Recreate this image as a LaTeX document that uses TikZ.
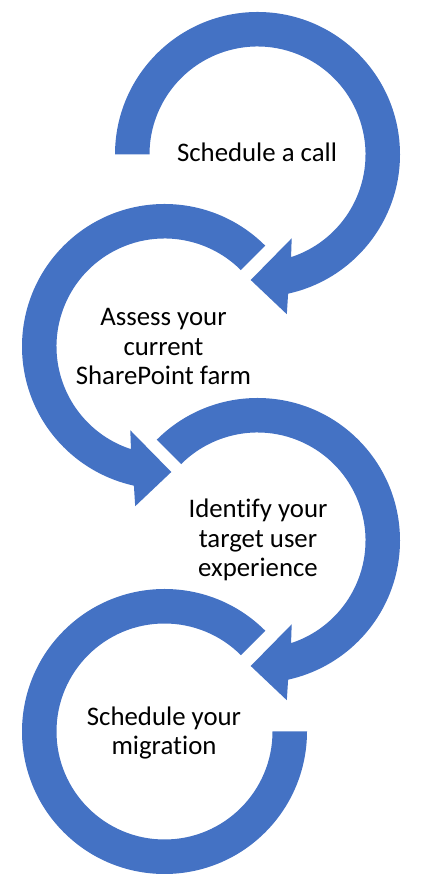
\documentclass[tikz,border=0pt]{standalone}
\usepackage{fontspec}
\setmainfont{Carlito}[Ligatures=NoCommon]
\definecolor{accentblue}{HTML}{4472C4}
\begin{document}
\begin{tikzpicture}[x=1pt,y=1pt,
  ringshape/.style={fill=accentblue, draw=none},
  steptext/.style={font=\fontsize{26.8}{29.5}\selectfont, align=center, anchor=base, inner sep=0pt, text=black}]
\useasboundingbox (0,0) rectangle (442,880);
\coordinate (c1) at (257.5,725.5);
\coordinate (c2) at (164.5,533.5);
\coordinate (c3) at (257.5,339.5);
\coordinate (c4) at (164.5,148.5);
% ring 1: clockwise, starts at left
\begin{scope}[shift={(c1)}]
\fill[ringshape] (180:142.5) arc[start angle=180,end angle=-77.6,radius=142.5]
  -- (-79.6:162.4) -- (-93.1:125.7) -- (-67.8:90.5) -- (-71.9:108)
  arc[start angle=-71.9,end angle=180,radius=108] -- cycle;
\end{scope}
% ring 2: counterclockwise, starts at 45
\begin{scope}[shift={(c2)}]
\fill[ringshape] (45:142.5) arc[start angle=45,end angle=257.6,radius=142.5]
  -- (259.6:162.4) -- (273.1:125.7) -- (247.8:90.5) -- (251.9:108)
  arc[start angle=251.9,end angle=45,radius=108] -- cycle;
\end{scope}
% ring 3: clockwise, starts at 135
\begin{scope}[shift={(c3)}]
\fill[ringshape] (135:142.5) arc[start angle=135,end angle=-77.6,radius=142.5]
  -- (-79.6:162.4) -- (-93.1:125.7) -- (-67.8:90.5) -- (-71.9:108)
  arc[start angle=-71.9,end angle=135,radius=108] -- cycle;
\end{scope}
% ring 4: counterclockwise, 45 to 360
\begin{scope}[shift={(c4)}]
\fill[ringshape] (45:142.5) arc[start angle=45,end angle=360,radius=142.5]
  -- (0:108) arc[start angle=360,end angle=45,radius=108] -- cycle;
\end{scope}
\node[steptext] (t1) at (257,718) {Schedule a call};
\node[steptext] (t2) at (163.5,495) {Assess your\\current\\SharePoint farm};
\node[steptext] (t3) at (258,303) {Identify your\\target user\\experience};
\node[steptext] (t4) at (164,125) {Schedule your\\migration};
\end{tikzpicture}
\end{document}
